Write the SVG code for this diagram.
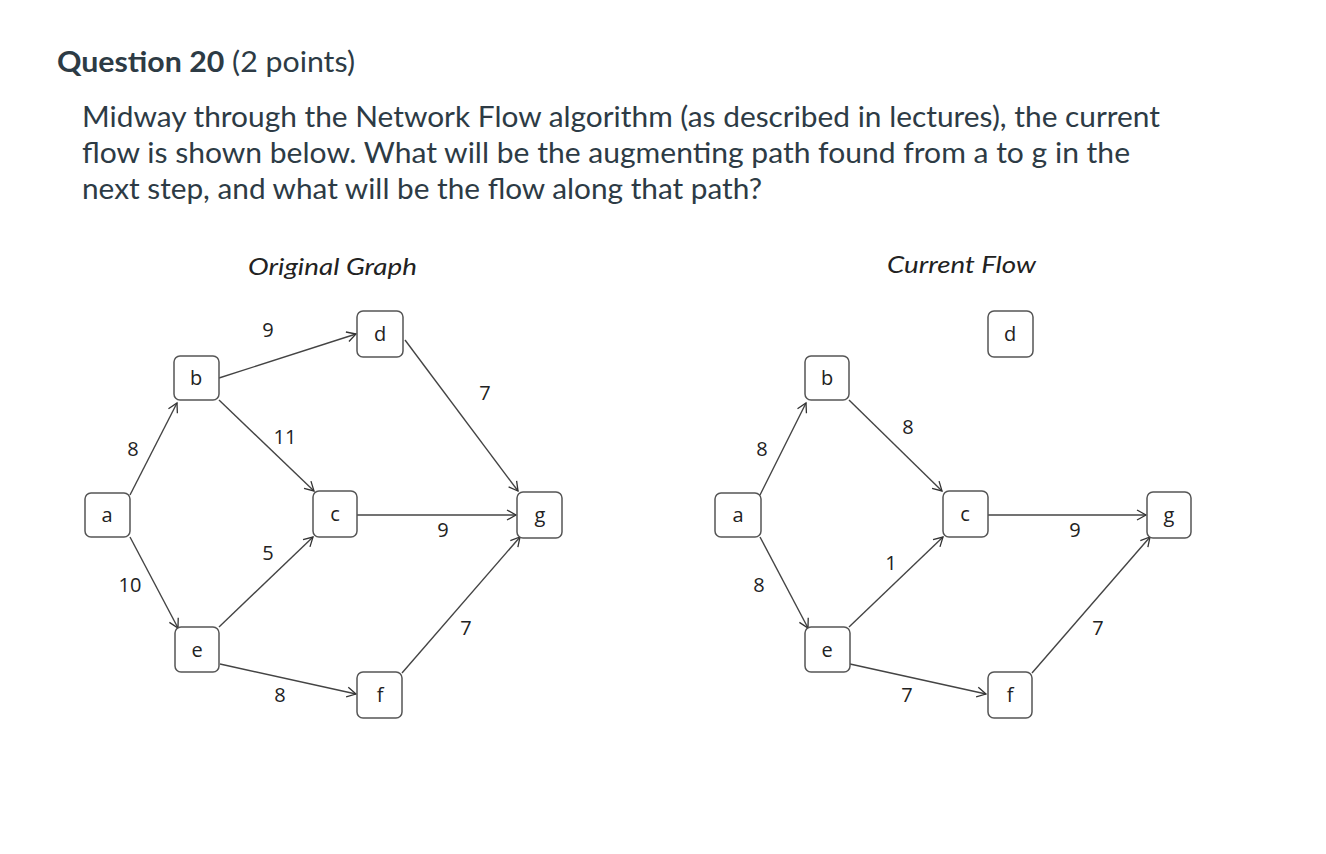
<svg xmlns="http://www.w3.org/2000/svg" width="1326" height="854" viewBox="0 0 1326 854">
<defs>
<marker id="ar" markerWidth="12" markerHeight="12" refX="10" refY="6" orient="auto" markerUnits="userSpaceOnUse"><path d="M1,1 L10,6 L1,11" fill="none" stroke="#333" stroke-width="1.3"/></marker>
</defs>
<style>
.q{font-family:Lato,"Liberation Sans",sans-serif;fill:#2d3b45}
.n rect{fill:#fff;stroke:#555;stroke-width:1.5}
.n text,.l{font-family:"Open Sans","Liberation Sans",sans-serif;font-size:20px;fill:#222;text-anchor:middle}
.e line{stroke:#444;stroke-width:1.4;marker-end:url(#ar)}
.t{font-family:Lato,"Liberation Sans",sans-serif;font-style:italic;font-size:24px;fill:#222}
</style>
<rect width="1326" height="854" fill="#fff"/>
<text class="q" x="57" y="72" font-size="28" textLength="298" lengthAdjust="spacingAndGlyphs"><tspan font-weight="bold">Question 20</tspan> (2 points)</text>
<text class="q" x="82" y="127" font-size="28" textLength="1078" lengthAdjust="spacingAndGlyphs">Midway through the Network Flow algorithm (as described in lectures), the current</text>
<text class="q" x="82" y="163" font-size="28" textLength="1048" lengthAdjust="spacingAndGlyphs">flow is shown below.  What will be the augmenting path found from a to g in the</text>
<text class="q" x="82" y="199" font-size="28" textLength="680" lengthAdjust="spacingAndGlyphs">next step, and what will be the flow along that path?</text>
<text class="t" x="248" y="275" textLength="169" lengthAdjust="spacingAndGlyphs">Original Graph</text>
<text class="t" x="887" y="273" textLength="149" lengthAdjust="spacingAndGlyphs">Current Flow</text>
<g id="connectors" class="e">
<line x1="130" y1="495" x2="177" y2="403"/>
<line x1="219" y1="378" x2="356" y2="334"/>
<line x1="219" y1="400" x2="314" y2="491"/>
<line x1="405" y1="340" x2="518" y2="491"/>
<line x1="357" y1="515" x2="516" y2="515"/>
<line x1="130" y1="537" x2="178" y2="628"/>
<line x1="219" y1="627" x2="313" y2="537"/>
<line x1="220" y1="664" x2="356" y2="694"/>
<line x1="402" y1="673" x2="520" y2="537"/>
<line x1="760" y1="495" x2="806" y2="403"/>
<line x1="849" y1="400" x2="942" y2="491"/>
<line x1="988" y1="515" x2="1146" y2="515"/>
<line x1="760" y1="537" x2="808" y2="628"/>
<line x1="849" y1="627" x2="943" y2="537"/>
<line x1="850" y1="664" x2="986" y2="694"/>
<line x1="1032" y1="673" x2="1150" y2="537"/>
</g>
<g id="labels">
<text class="l" x="268" y="337">9</text><text class="l" x="485" y="400">7</text>
<text class="l" x="285" y="444">11</text><text class="l" x="133" y="456">8</text>
<text class="l" x="443" y="537">9</text><text class="l" x="268" y="560">5</text>
<text class="l" x="130" y="592">10</text><text class="l" x="466" y="635">7</text>
<text class="l" x="280" y="702">8</text>
<text class="l" x="762" y="456">8</text><text class="l" x="908" y="434">8</text>
<text class="l" x="1075" y="537">9</text><text class="l" x="891" y="570">1</text>
<text class="l" x="759" y="592">8</text><text class="l" x="1098" y="635">7</text>
<text class="l" x="907" y="702">7</text>
</g>
<g id="L-a" class="n"><rect x="85" y="493" width="45" height="44" rx="6"/><text x="107" y="522">a</text></g>
<g id="L-b" class="n"><rect x="174" y="356" width="45" height="44" rx="6"/><text x="196" y="385">b</text></g>
<g id="L-c" class="n"><rect x="313" y="491" width="44" height="46" rx="6"/><text x="335" y="521">c</text></g>
<g id="L-d" class="n"><rect x="357" y="311" width="46" height="46" rx="6"/><text x="380" y="341">d</text></g>
<g id="L-e" class="n"><rect x="175" y="627" width="44" height="45" rx="6"/><text x="197" y="657">e</text></g>
<g id="L-f" class="n"><rect x="357" y="672" width="45" height="46" rx="6"/><text x="380" y="702">f</text></g>
<g id="L-g" class="n"><rect x="517" y="492" width="45" height="46" rx="6"/><text x="540" y="522">g</text></g>
<g id="R-a" class="n"><rect x="715" y="493" width="46" height="44" rx="6"/><text x="738" y="522">a</text></g>
<g id="R-b" class="n"><rect x="805" y="356" width="44" height="44" rx="6"/><text x="827" y="385">b</text></g>
<g id="R-c" class="n"><rect x="943" y="491" width="45" height="46" rx="6"/><text x="965" y="521">c</text></g>
<g id="R-d" class="n"><rect x="988" y="311" width="45" height="46" rx="6"/><text x="1010" y="341">d</text></g>
<g id="R-e" class="n"><rect x="805" y="627" width="45" height="45" rx="6"/><text x="827" y="657">e</text></g>
<g id="R-f" class="n"><rect x="988" y="672" width="44" height="46" rx="6"/><text x="1010" y="702">f</text></g>
<g id="R-g" class="n"><rect x="1147" y="492" width="44" height="46" rx="6"/><text x="1169" y="522">g</text></g>
</svg>
